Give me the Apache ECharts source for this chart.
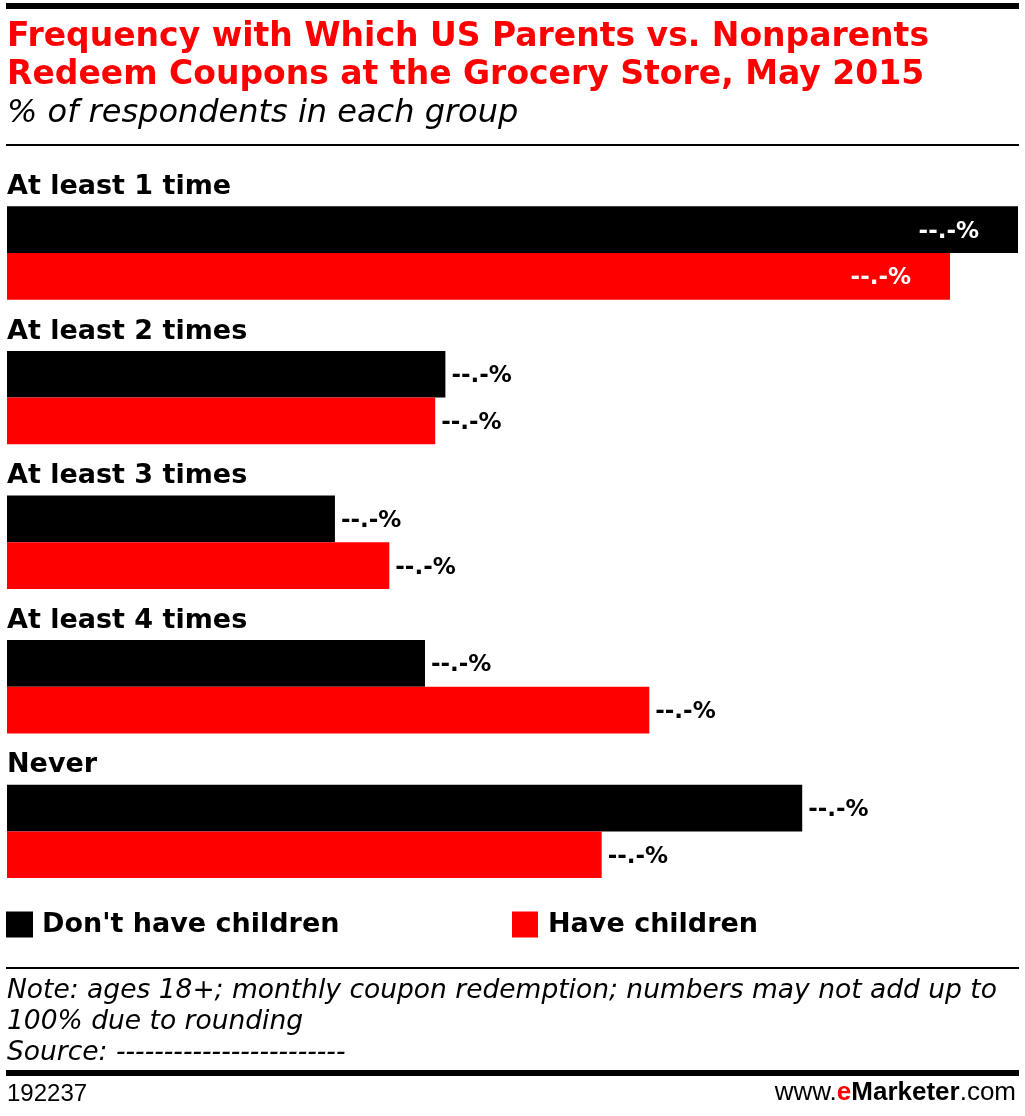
<!DOCTYPE html>
<html>
<head>
<meta charset="utf-8">
<script src="https://cdn.jsdelivr.net/npm/echarts@6/dist/echarts.min.js"></script>
<style>html,body{margin:0;padding:0;background:#fff;}#c{width:1025px;height:1116px;}</style>
</head>
<body>
<div id="c"></div>
<script>
const categories = ['At least 1 time', 'At least 2 times', 'At least 3 times', 'At least 4 times', 'Never'];
const noChildren = [59.5, 25.8, 19.3, 24.6, 46.8];
const haveChildren = [55.5, 25.2, 22.5, 37.8, 35.0];
const seriesNames = ["Don't have children", 'Have children'];
const valueLabel = '--.-%';

const chart = echarts.init(document.getElementById('c'), null, {renderer: 'canvas'});
const bold = 'DejaVu Sans';
const ital = 'DejaVu Sans';
const plain = 'Liberation Sans';

function mkData(arr) {
  return arr.map((v, i) => i === 0 ? {
    value: v,
    label: {position: 'insideRight', offset: [-33, 2], color: '#fff'}
  } : v);
}

const option = {
  animation: false,
  backgroundColor: '#fff',
  title: [
    {text: 'Frequency with Which US Parents vs. Nonparents\nRedeem Coupons at the Grocery Store, May 2015', left: 7, top: 18,
     textStyle: {fontFamily: bold, fontWeight: 'bold', fontSize: 33, lineHeight: 38, color: '#ff0000'}, padding: 0},
    {text: '% of respondents in each group', left: 7, top: 98,
     textStyle: {fontFamily: ital, fontStyle: 'italic', fontWeight: 'normal', fontSize: 32, color: '#000'}, padding: 0},
    {text: 'Note: ages 18+; monthly coupon redemption; numbers may not add up to\n100% due to rounding\nSource: ------------------------', left: 7, top: 976,
     textStyle: {fontFamily: ital, fontStyle: 'italic', fontWeight: 'normal', fontSize: 26.5, lineHeight: 31, color: '#000'}, padding: 0},
    {text: '192237', left: 7, top: 1082,
     textStyle: {fontFamily: plain, fontWeight: 'normal', fontSize: 24, color: '#000'}, padding: 0},
    {text: '{a|www.}{b|e}{c|Marketer}{a|.com}', right: 9, top: 1080, padding: 0,
     textStyle: {fontWeight: 'normal', rich: {
       a: {fontFamily: plain, fontSize: 26, fontWeight: 'normal', color: '#000'},
       b: {fontFamily: plain, fontSize: 26, fontWeight: 'bold', color: '#ff0000'},
       c: {fontFamily: plain, fontSize: 26, fontWeight: 'bold', color: '#000'}
     }}}
  ],
  legend: [
    {data: [seriesNames[0]], left: 6, top: 911, itemWidth: 27, itemHeight: 26, itemGap: 0, padding: 0,
     selectedMode: false, icon: 'rect',
     textStyle: {fontFamily: bold, fontWeight: 'bold', fontSize: 27, color: '#000', padding: [0, 0, 0, 4]}},
    {data: [seriesNames[1]], left: 512, top: 911, itemWidth: 26, itemHeight: 26, itemGap: 0, padding: 0,
     selectedMode: false, icon: 'rect',
     textStyle: {fontFamily: bold, fontWeight: 'bold', fontSize: 27, color: '#000', padding: [0, 0, 0, 5]}}
  ],
  grid: {left: 7, right: 7, top: 180.7, height: 723, containLabel: false},
  xAxis: {type: 'value', min: 0, max: 59.5, show: false},
  yAxis: {
    type: 'category', data: categories, inverse: true,
    axisLine: {show: false}, axisTick: {show: false},
    axisLabel: {inside: true, margin: 0, align: 'left', verticalAlign: 'middle', interval: 0,
      showMinLabel: true, showMaxLabel: true, hideOverlap: false,
      formatter: v => '{t|' + v + '}\n{s|}',
      rich: {
        t: {fontFamily: bold, fontWeight: 'bold', fontSize: 27, lineHeight: 32, color: '#000', align: 'left'},
        s: {height: 132, lineHeight: 132}
      }}
  },
  series: [
    {name: seriesNames[0], type: 'bar', data: mkData(noChildren), barWidth: 46.7, barGap: '0%',
     itemStyle: {color: '#000000'},
     label: {show: true, position: 'right', distance: 6, offset: [0, 2], formatter: () => valueLabel,
       fontFamily: bold, fontWeight: 'bold', fontSize: 23, color: '#000'}},
    {name: seriesNames[1], type: 'bar', data: mkData(haveChildren), barWidth: 46.7, barGap: '0%',
     itemStyle: {color: '#ff0000'},
     label: {show: true, position: 'right', distance: 6, offset: [0, 2], formatter: () => valueLabel,
       fontFamily: bold, fontWeight: 'bold', fontSize: 23, color: '#000'}}
  ],
  graphic: [
    {type: 'rect', shape: {x: 6, y: 3, width: 1013, height: 6}, style: {fill: '#000'}},
    {type: 'rect', shape: {x: 6, y: 144, width: 1013, height: 2}, style: {fill: '#000'}},
    {type: 'rect', shape: {x: 6, y: 967, width: 1013, height: 2}, style: {fill: '#000'}},
    {type: 'rect', shape: {x: 6, y: 1070, width: 1013, height: 6}, style: {fill: '#000'}}
  ]
};
chart.setOption(option);
</script>
</body>
</html>
